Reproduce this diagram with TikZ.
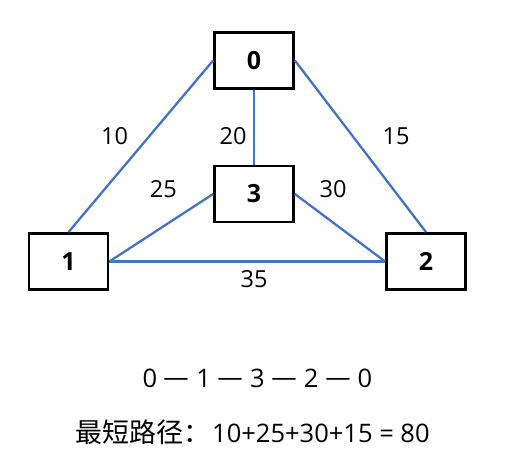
\documentclass[tikz,border=0pt]{standalone}
\usepackage{fontspec}
\setmainfont{Open Sans}
\newfontfamily\cjk{Noto Sans CJK SC}
\definecolor{edgeblue}{HTML}{4472C4}
\newcommand{\cjkdash}{{\cjk\fontsize{29}{31}\selectfont —}}
\begin{document}
\begin{tikzpicture}[x=1pt,y=-1pt,
  vbox/.style={draw=black,line width=2.8pt,minimum width=79pt,minimum height=56pt,inner sep=0pt,font=\fontsize{25}{27}\selectfont\bfseries},
  edge/.style={draw=edgeblue,line width=2.3pt},
  wlabel/.style={inner sep=0pt,anchor=base,font=\fontsize{23.5}{25}\selectfont},
  sumtext/.style={inner sep=0pt,anchor=base,font=\fontsize{25.5}{27}\selectfont}]
\useasboundingbox (0,0) rectangle (505,466);
\node[vbox] (n0) at (254,60.5) {0};
\node[vbox] (n3) at (254,194) {3};
\node[vbox] (n1) at (68.5,261.5) {1};
\node[vbox] (n2) at (426,261.5) {2};
\draw[edge] (n0.west) -- (n1.north);
\draw[edge] (n0.east) -- (n2.north);
\draw[edge] (n0.south) -- (n3.north);
\draw[edge] (n3.west) -- (n1.east);
\draw[edge] (n3.east) -- (n2.west);
\draw[edge] (n1.east) -- (n2.west);
\node[wlabel] (l10) at (114.5,144) {10};
\node[wlabel] (l20) at (233,144) {20};
\node[wlabel] (l15) at (396,144) {15};
\node[wlabel] (l25) at (163.3,197) {25};
\node[wlabel] (l30) at (333,197) {30};
\node[wlabel] (l35) at (254,287) {35};
\node[sumtext] (path) at (257.5,387) {0 \cjkdash{} 1 \cjkdash{} 3 \cjkdash{} 2 \cjkdash{} 0};
\node[sumtext,anchor=base west] (total) at (75,442) {{\cjk\fontsize{27}{29}\selectfont 最短路径：}\hspace{2pt}10+25+30+15 = 80};
\end{tikzpicture}
\end{document}
